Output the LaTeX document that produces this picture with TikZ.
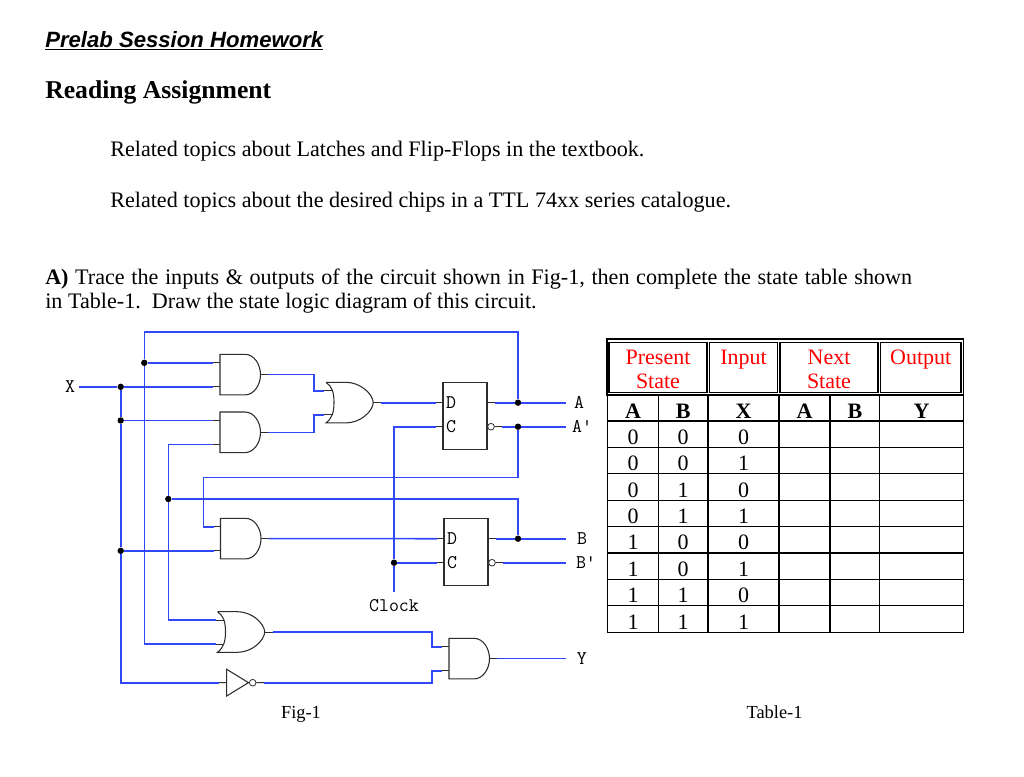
\documentclass[tikz,border=0pt]{standalone}
\usepackage{fontspec}
\setmainfont{Liberation Serif}
\setsansfont{Liberation Sans}
\usetikzlibrary{positioning, calc}

\definecolor{wireblue}{RGB}{48,72,250}
\definecolor{gategray}{RGB}{45,45,45}

\tikzset{
  wire/.style={draw=wireblue, line width=1.2pt},
  gateline/.style={draw=gategray, line width=0.8pt},
  gatebox/.style={inner sep=0pt, outer sep=0pt, anchor=north west},
  dot/.style={circle, fill=black, inner sep=0pt, minimum size=4.8pt},
  bubble/.style={circle, draw=gategray, fill=white, line width=0.6pt, inner sep=0pt, minimum size=5pt},
  sig/.style={font=\ttfamily\fontsize{14.5}{14.5}\selectfont, inner sep=4pt},
  outsig/.style={sig, anchor=west, inner xsep=5.9pt},
  body/.style={anchor=base west, inner sep=0pt, font=\fontsize{16.6}{18}\selectfont},
  head/.style={draw, line width=1pt, inner sep=0pt, outer sep=0pt, text=red, align=center,
    minimum height=37.7pt, font=\fontsize{16.5}{18}\selectfont},
  cell/.style={draw, line width=0.9pt, inner sep=0pt, outer sep=0pt,
    text height=15pt, text depth=0pt, minimum height=19.8pt, font=\fontsize{16.5}{18}\selectfont}
}

\newcommand{\hd}[1]{\raisebox{-3pt}[0.7em][0.2em]{#1}}

% AND gate: top left corner at #2,#3
\newcommand{\andgate}[3]{
  \node[gatebox, minimum width=30.4pt, minimum height=30.5pt] (#1) at (#2,#3) {};
  \draw[gateline] (#2,#3) -- (#2+25,#3) .. controls (#2+34,#3) and (#2+40.5,#3+10) .. (#2+40.5,#3+20.3)
    .. controls (#2+40.5,#3+30.6) and (#2+34,#3+40.6) .. (#2+25,#3+40.6) -- (#2,#3+40.6) -- cycle;
  \coordinate (#1a) at (#2-7,#3+8.5);
  \coordinate (#1b) at (#2-7,#3+32.5);
  \coordinate (#1o) at (#2+48,#3+20.3);
  \draw[gateline] (#1a) -- ++(7,0) (#1b) -- ++(7,0) (#1o) -- ++(-7.5,0);
}

% OR gate: top left horn at #2,#3
\newcommand{\orgate}[3]{
  \node[gatebox, minimum width=35.5pt, minimum height=30.5pt] (#1) at (#2,#3) {};
  \draw[gateline] (#2,#3) -- (#2+20,#3) .. controls (#2+34,#3) and (#2+46.5,#3+11) .. (#2+47.3,#3+20.3)
    .. controls (#2+46.5,#3+29.6) and (#2+34,#3+40.6) .. (#2+20,#3+40.6) -- (#2,#3+40.6)
    .. controls (#2+6,#3+36) and (#2+8,#3+30) .. (#2+8,#3+20.3) .. controls (#2+8,#3+10) and (#2+6,#3+4) .. (#2,#3);
  \coordinate (#1a) at (#2-2,#3+8.4);
  \coordinate (#1b) at (#2-2,#3+32.4);
  \coordinate (#1o) at (#2+55,#3+20.4);
  \draw[gateline] (#1a) -- ++(8.5,0) (#1b) -- ++(8.5,0) (#1o) -- ++(-7.5,0);
}

% D flip-flop
\newcommand{\dff}[3]{
  \node[gatebox, gateline, draw, minimum width=33pt, minimum height=50.5pt] (#1) at (#2,#3) {};
  \node[sig, inner sep=0pt] (#1D) at (#2+8,#3+20.4) {D};
  \node[sig, inner sep=0pt] (#1C) at (#2+8,#3+44.4) {C};
  \node[bubble] (#1n) at (#2+48,#3+44.4) {};
  \coordinate (#1d) at (#2-7,#3+20.4);
  \coordinate (#1c) at (#2-7,#3+44.4);
  \coordinate (#1q) at (#2+52,#3+20.4);
  \coordinate (#1nq) at (#2+59,#3+44.4);
  \draw[gateline] (#1d) -- ++(7,0) (#1c) -- ++(7,0) (#1q) -- ++(-8,0) (#1nq) -- (#1n);
}

\begin{document}
\begin{tikzpicture}[x=0.75pt,y=-0.75pt]
  \useasboundingbox (0,0) rectangle (1024,776);

  % Page text
  \node[body, font=\sffamily\bfseries\itshape\fontsize{16.6}{18}\selectfont] (title) at (45,47) {\underline{Prelab Session Homework}};
  \node[body, font=\bfseries\fontsize{19.25}{20}\selectfont] (reading) at (45,98) {Reading Assignment};
  \node[body] (rel1) at (110,156) {Related topics about Latches and Flip-Flops in the textbook.};
  \node[body] (rel2) at (110,207) {Related topics about the desired chips in a TTL 74xx series catalogue.};
  \node[body] (partA) at (45,284) {\spaceskip=4.95pt \textbf{A)} Trace the inputs \& outputs of the circuit shown in Fig-1, then complete the state table shown};
  \node[body] (partA2) at (45,308) {in Table-1.\ \ Draw the state logic diagram of this circuit.};
  \node[body, anchor=base, font=\fontsize{13.8}{15}\selectfont] (fig) at (301,718) {Fig-1};
  \node[body, anchor=base, font=\fontsize{13.8}{15}\selectfont] (tab) at (774.5,718) {Table-1};

  % Gates
  \andgate{and1}{220}{354.3}
  \andgate{and2}{220}{412}
  \andgate{and3}{220.5}{518.3}
  \andgate{and4}{449}{638.3}
  \orgate{or1}{326}{382.3}
  \orgate{or2}{217.5}{611.7}
  \dff{ffa}{443}{382.3}
  \dff{ffb}{444}{518.3}

  % Inverter
  \node[gatebox, minimum width=16.7pt, minimum height=20pt] (inv) at (226.7,669.3) {};
  \draw[gateline] (inv.north west) -- (inv.south west) -- ($(inv.east)+(-0.5,0)$) -- cycle;
  \node[bubble] (invn) at (252.7,682.7) {};
  \coordinate (inva) at (219,682.7);
  \coordinate (invo) at (264,682.7);
  \draw[gateline] (inva) -- (inv.west) (invn) -- (invo);

  % Signal labels
  \node[sig, inner xsep=2.5pt] (X) at (70,386.8) {X};
  \node[outsig] (A) at (566,402.7) {A};
  \node[outsig, inner xsep=4.4pt] (Ab) at (566,426.7) {A'};
  \node[outsig, inner xsep=8.2pt] (B) at (566,538.7) {B};
  \node[outsig, inner xsep=7.3pt] (Bb) at (566,562.7) {B'};
  \node[outsig, inner xsep=8pt] (Y) at (566,658.6) {Y};
  \node[sig, inner xsep=3pt, inner ysep=5.5pt, anchor=north] (clock) at (394,592) {Clock};

  % Junctions
  \node[dot] (dx1) at (120.7,386.8) {};
  \node[dot] (dx2) at (120.7,420.5) {};
  \node[dot] (dx3) at (120.7,550.8) {};
  \node[dot] (da) at (144.3,362.8) {};
  \node[dot] (db) at (168.3,499) {};
  \node[dot] (dqa) at (518,402.7) {};
  \node[dot] (dna) at (518,426.7) {};
  \node[dot] (dqb) at (518,538.7) {};
  \node[dot] (dclk) at (394,562.7) {};

  % Bends
  \coordinate (topl) at (144.3,332);
  \coordinate (topr) at (518,332);
  \coordinate (rail) at (203.3,477.3);
  \coordinate (j1) at (314,390.7);
  \coordinate (j2) at (314,414.7);
  \coordinate (j3) at (431.7,646.8);
  \coordinate (j4) at (431.7,670.8);

  % Connections from X
  \draw[wire] (X.east) -- (dx1);
  \draw[wire] (dx1) -- (and1b);
  \draw[wire] (dx1) -- (dx2);
  \draw[wire] (dx2) -- (dx3);
  \draw[wire] (dx2) -- (and2a);
  \draw[wire] (dx3) -- (and3b);
  \draw[wire] (dx3) |- (inva);

  % Connections from A and B
  \draw[wire] (da) -- (and1a);
  \draw[wire] (da) |- (or2b);
  \draw[wire] (da) -- (topl) -- (topr) -- (dqa);
  \draw[wire] (and2b) -| (db);
  \draw[wire] (db) |- (or2a);
  \draw[wire] (db) -| (dqb);
  \draw[wire] (and3a) -| (rail) -| (dna);

  % Gate outputs
  \draw[wire] (and1o) -| (j1) -- (or1a);
  \draw[wire] (and2o) -| (j2) -- (or1b);
  \draw[wire] (or1o) -- (ffad);
  \draw[wire] (and3o) -- (ffbd);
  \draw[wire] (or2o) -| (j3) -- (and4a);
  \draw[wire] (invo) -| (j4) -- (and4b);
  \draw[wire] (and4o) -- (Y.west);

  % Flip-flop outputs
  \draw[wire] (ffaq) -- (dqa);
  \draw[wire] (dqa) -- (A.west);
  \draw[wire] (ffanq) -- (dna);
  \draw[wire] (dna) -- (Ab.west);
  \draw[wire] (ffbq) -- (dqb);
  \draw[wire] (dqb) -- (B.west);
  \draw[wire] (ffbnq) -- (Bb.west);

  % Clock
  \draw[wire] (clock.north) -- (dclk);
  \draw[wire] (dclk) -- (ffbc);
  \draw[wire] (dclk) |- (ffac);

  % Table header
  \node[draw, line width=1pt, inner sep=0pt, minimum width=267.7pt, minimum height=41.8pt] (hdr) at (785.3,367) {};
  \node[head, minimum width=73.5pt] (present) at (658,367.3) {\hd{Present}\\\hd{State}};
  \node[head, minimum width=51pt] (input) at (743.6,367.3) {\hd{Input}\\\hd{~}};
  \node[head, minimum width=73.5pt] (next) at (829,367.3) {\hd{Next}\\\hd{State}};
  \node[head, minimum width=60.5pt] (output) at (920.7,367.3) {\hd{Output}\\\hd{~}};

  % Table rows
  \foreach \r/\ya/\ca/\cb/\cc/\cd/\ce/\cf in {
    0/408.4/\textbf{A}/\textbf{B}/\textbf{X}/\textbf{A}/\textbf{B}/\textbf{Y},
    1/434.2/0/0/0///,
    2/460.6/0/0/1///,
    3/487/0/1/0///,
    4/513.4/0/1/1///,
    5/539.8/1/0/0///,
    6/566.2/1/0/1///,
    7/592.6/1/1/0///,
    8/619/1/1/1///} {
      \node[cell, minimum width=37.95pt] (ca\r) at (633,\ya) {\ca};
      \node[cell, minimum width=37.3pt, right=0pt of ca\r] (cb\r) {\cb};
      \node[cell, minimum width=53.25pt, right=0pt of cb\r] (cc\r) {\cc};
      \node[cell, minimum width=38.25pt, right=0pt of cc\r] (cd\r) {\cd};
      \node[cell, minimum width=37.3pt, right=0pt of cd\r] (ce\r) {\ce};
      \node[cell, minimum width=62.5pt, right=0pt of ce\r] (cf\r) {\cf};
  }
\end{tikzpicture}
\end{document}
